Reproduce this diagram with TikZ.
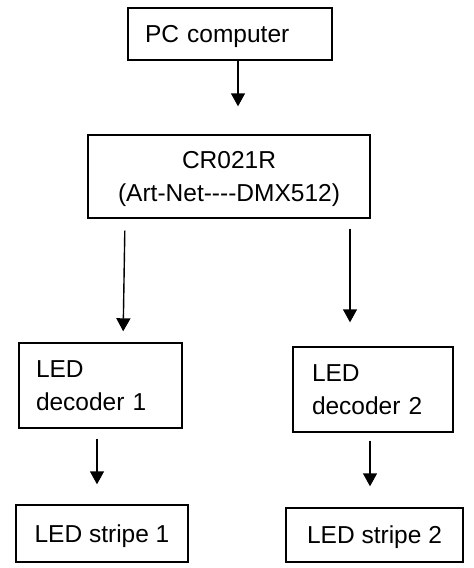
\documentclass[tikz,border=0pt]{standalone}
\usepackage{fontspec}
\setmainfont{Liberation Sans}[Ligatures=TeXOff]
\usetikzlibrary{arrows.meta, positioning}

\begin{document}
\begin{tikzpicture}[
        x=1pt, y=-1pt,
        every node/.style={font=\fontsize{24.5}{33}\selectfont},
        box/.style={draw, line width=1.4pt, inner ysep=2pt},
        lowtext/.style={text depth=-1.5pt},
        line width=1.4pt,
        >={Triangle[width=14pt,length=13pt]} % Filled arrowheads
    ]
        \useasboundingbox (0,0) rectangle (474,568);

        % Define the top boxes
        \node (pc) [box, lowtext, minimum height=52pt, inner xsep=17pt, text width=170pt, align=left] at (230,34) {PC computer};
        \node (cr) [box, lowtext, minimum width=282pt, minimum height=83pt, align=center] at (229,176.5) {CR021R\\(Art-Net----DMX512)};

        % Define the decoder boxes
        \node (dec1) [box, minimum height=85pt, inner xsep=17pt, text width=129pt, align=left] at (100.5,385.5) {LED\\decoder 1};
        \node (dec2) [box, minimum height=85pt, inner xsep=19pt, text width=122pt, align=left] at (373,389.5) {LED\\decoder 2};

        % Define the stripe boxes
        \node (st1) [box, lowtext, minimum width=172pt, minimum height=57pt] at (102,533.5) {LED stripe 1};
        \node (st2) [box, lowtext, minimum width=177pt, minimum height=54pt] at (374.5,535) {LED stripe 2};

        % Draw the arrows, leaving gaps before the boxes
        \draw[->, shorten >=28pt] ([xshift=8pt]pc.south) -- ([xshift=9pt]cr.north);
        \draw[->, shorten <=12pt, shorten >=11pt] ([xshift=-104pt]cr.south) -- ([xshift=22.5pt]dec1.north);
        \draw[->, shorten <=10pt, shorten >=24pt] ([xshift=121pt]cr.south) -- ([xshift=-23pt]dec2.north);
        \draw[->, shorten <=10pt, shorten >=20pt] ([xshift=-3.5pt]dec1.south) -- ([xshift=-5pt]st1.north);
        \draw[->, shorten <=8pt, shorten >=21pt] ([xshift=-3pt]dec2.south) -- ([xshift=-4.5pt]st2.north);

    \end{tikzpicture}
\end{document}
